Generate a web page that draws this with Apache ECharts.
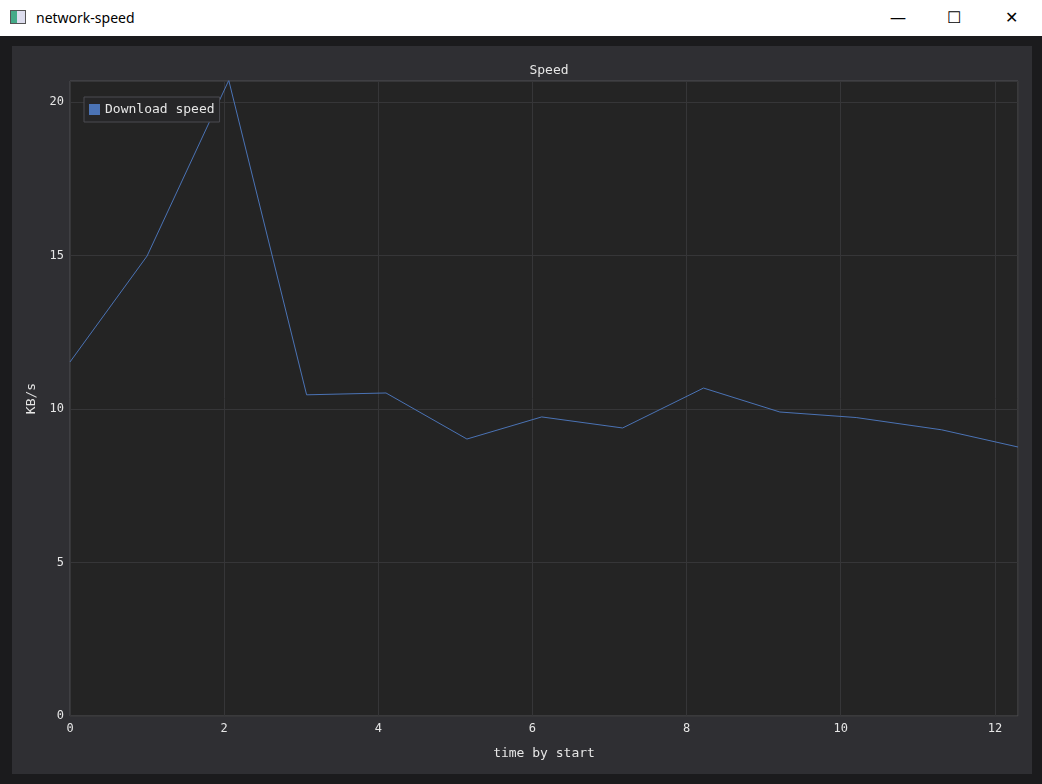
<!DOCTYPE html>
<html><head><meta charset="utf-8">
<script src="https://cdn.jsdelivr.net/npm/echarts@6/dist/echarts.min.js"></script>
<style>
html,body{margin:0;padding:0;width:1042px;height:784px;overflow:hidden;background:#1b1b1d;font-family:"Segoe UI","Noto Sans",sans-serif}
#bar{position:absolute;left:0;top:0;width:1042px;height:36px;background:#fff;color:#000;font-size:14px}
#bar .t{position:absolute;left:36px;top:8px}
#bar .ic{position:absolute;left:10px;top:10px;width:14px;height:12px;border:1px solid #555;background:linear-gradient(90deg,#4a8 40%,#dde 40%)}
#bar .c{position:absolute;top:6px;font-size:16px}
#panel{position:absolute;left:12px;top:46px;width:1020px;height:728px;background:#2f2f33}
#c{position:absolute;left:0;top:0;width:1042px;height:784px}
</style></head><body>
<div id="bar"><div class="ic"></div><div class="t">network-speed</div>
<div class="c" style="left:890px">&#8212;</div><div class="c" style="left:947px">&#9744;</div><div class="c" style="left:1005px">&#10005;</div></div>
<div id="panel"></div>
<div id="c"></div>
<script>
const times = [0, 1.0, 2.06, 3.07, 4.1, 5.15, 6.12, 7.17, 8.22, 9.21, 10.2, 11.31, 12.3];
const speeds = [11.53, 14.98, 20.7, 10.46, 10.52, 9.02, 9.74, 9.38, 10.68, 9.9, 9.72, 9.32, 8.76];
const seriesName = 'Download speed';
const mono = '"DejaVu Sans Mono", monospace';
const chart = echarts.init(document.getElementById('c'));
chart.setOption({
  backgroundColor: 'transparent',
  animation: false,
  title: {text: 'Speed', left: 544, top: 59, textAlign: 'center',
    textStyle: {color: '#e6e6e6', fontSize: 13, fontWeight: 'normal', fontFamily: mono}},
  legend: {left: 84, top: 97, orient: 'vertical', itemWidth: 11, itemHeight: 11, itemGap: 4,
    padding: [6, 5, 6, 5], borderColor: '#4a4a50', borderWidth: 1, backgroundColor: '#262628',
    icon: 'rect', textStyle: {color: '#e6e6e6', fontSize: 13, fontFamily: mono}, data: [seriesName]},
  grid: {left: 70, top: 81, right: 24, bottom: 68, show: true, backgroundColor: '#242424', borderColor: '#505055', borderWidth: 1},
  xAxis: {type: 'value', min: 0, max: 12.3, interval: 2,
    name: 'time by start', nameLocation: 'middle', nameGap: 31,
    nameTextStyle: {color: '#e6e6e6', fontSize: 13, fontFamily: mono},
    axisLine: {show: false}, axisTick: {show: false},
    axisLabel: {color: '#e6e6e6', fontSize: 12, fontFamily: mono, margin: 7, showMaxLabel: false},
    splitLine: {lineStyle: {color: '#363638'}}},
  yAxis: {type: 'value', min: 0, max: 20.68, interval: 5,
    name: 'KB/s', nameLocation: 'middle', nameGap: 32,
    nameTextStyle: {color: '#e6e6e6', fontSize: 13, fontFamily: mono},
    axisLine: {show: false}, axisTick: {show: false},
    axisLabel: {color: '#e6e6e6', fontSize: 12, fontFamily: mono, margin: 6, showMaxLabel: false},
    splitLine: {lineStyle: {color: '#363638'}}},
  series: [{name: seriesName, type: 'line', data: times.map((t, i) => [t, speeds[i]]),
    showSymbol: false, lineStyle: {color: '#4b73b5', width: 1}, itemStyle: {color: '#4b73b5'}, clip: true}]
});
</script></body></html>
